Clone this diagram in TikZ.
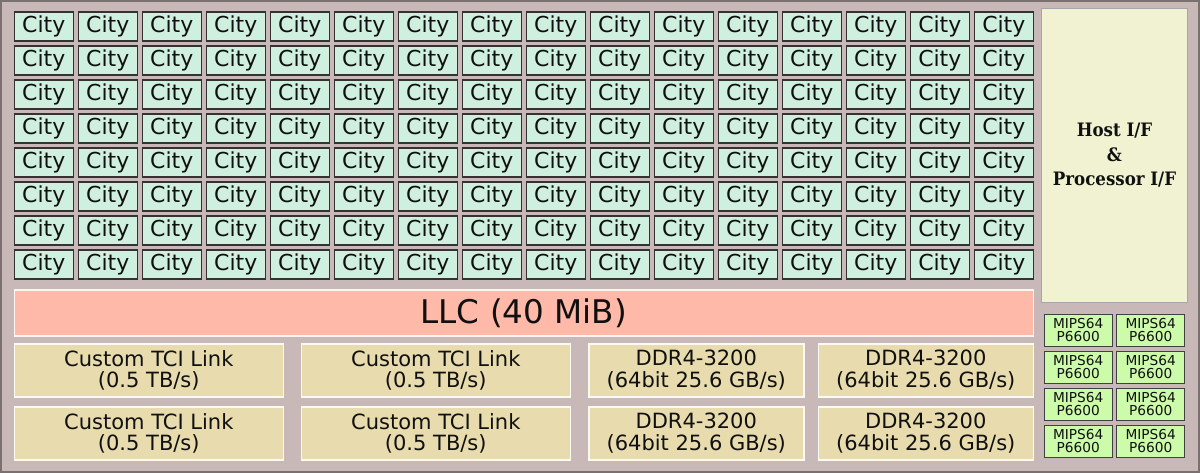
\documentclass[tikz,border=0pt]{standalone}
\usepackage{fontspec}
\setmainfont{DejaVu Sans}
\newfontfamily\hostfont[FakeStretch=0.9]{DejaVu Serif}
\definecolor{bgc}{HTML}{C8B8B8}
\definecolor{framec}{HTML}{7A7070}
\definecolor{cityc}{HTML}{CFF0DE}
\definecolor{hostc}{HTML}{F0F2D2}
\definecolor{llcc}{HTML}{FFB9A9}
\definecolor{linkc}{HTML}{E8DCAE}
\definecolor{mipsc}{HTML}{CCFBAA}
\definecolor{txtc}{HTML}{101010}
\begin{document}
\begin{tikzpicture}[x=1pt,y=-1pt,
  citybox/.style={draw=black!80,line width=1.6pt,fill=cityc,minimum width=59pt,minimum height=29pt,inner sep=0pt,anchor=north west,text=txtc,font=\fontsize{22}{22}\selectfont},
  hostbox/.style={draw=black!35,line width=1pt,fill=hostc,minimum width=146pt,minimum height=293pt,inner sep=0pt,anchor=north west,align=center,text=txtc,font=\hostfont\bfseries\fontsize{18.5}{24.5}\selectfont},
  llcbox/.style={draw=white!85!llcc,line width=1.6pt,fill=llcc,minimum width=1019pt,minimum height=46pt,inner sep=0pt,anchor=north west,text=txtc,font=\fontsize{32.6}{32.6}\selectfont},
  linkbox/.style={draw=white!85!linkc,line width=1.6pt,fill=linkc,minimum height=53pt,inner sep=0pt,anchor=north west,align=center,text=txtc,font=\fontsize{21}{21.5}\selectfont},
  mipsbox/.style={draw=black!75,line width=1.4pt,fill=mipsc,minimum width=68pt,minimum height=32pt,inner sep=0pt,anchor=north west,align=center,text=txtc,font=\fontsize{13.7}{13.5}\selectfont}]
\useasboundingbox (0,0) rectangle (1200,473);
\fill[bgc] (0,0) rectangle (1200,473);
\draw[framec,line width=2pt] (1,1) rectangle (1199,472);
\foreach \r in {0,...,7}{
  \foreach \c in {0,...,15}{
    \node[citybox] (city-\r-\c) at ({13.5+64*\c},{11.5+34*\r}) {City};
  }
}
\node[hostbox] (host) at (1041,8.5) {Host I/F\\\&\\Processor I/F};
\node[llcbox] (llc) at (13.5,289) {LLC (40 MiB)};
\node[linkbox,minimum width=269pt] (tci1) at (13.5,343) {Custom TCI Link\\(0.5 TB/s)};
\node[linkbox,minimum width=269pt] (tci2) at (300.5,343) {Custom TCI Link\\(0.5 TB/s)};
\node[linkbox,minimum width=215pt] (ddr1) at (588,343) {DDR4-3200\\(64bit 25.6 GB/s)};
\node[linkbox,minimum width=215pt] (ddr2) at (817.5,343) {DDR4-3200\\(64bit 25.6 GB/s)};
\node[linkbox,minimum width=269pt] (tci3) at (13.5,406) {Custom TCI Link\\(0.5 TB/s)};
\node[linkbox,minimum width=269pt] (tci4) at (300.5,406) {Custom TCI Link\\(0.5 TB/s)};
\node[linkbox,minimum width=215pt] (ddr3) at (588,406) {DDR4-3200\\(64bit 25.6 GB/s)};
\node[linkbox,minimum width=215pt] (ddr4) at (817.5,406) {DDR4-3200\\(64bit 25.6 GB/s)};
\foreach \r in {0,...,3}{
  \foreach \c in {0,1}{
    \node[mipsbox] (mips-\r-\c) at ({1043.5+72.5*\c},{313.5+37*\r}) {MIPS64\\P6600};
  }
}
\end{tikzpicture}
\end{document}
